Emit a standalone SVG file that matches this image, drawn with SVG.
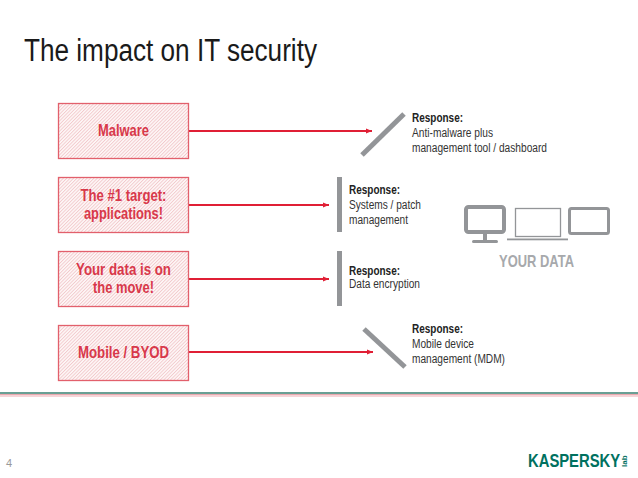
<svg xmlns="http://www.w3.org/2000/svg" width="638" height="478" viewBox="0 0 638 478">
<style>
text{font-family:"Liberation Sans",Arial,sans-serif}
.box{fill:url(#hatch);stroke:#e2606c;stroke-width:1.3}
.lbl{fill:#d8384a;font-size:16.500px;font-weight:bold;text-anchor:middle}
.conn{stroke:#e01f35;stroke-width:2;fill:none;marker-end:url(#arr)}
.bar{stroke:#939598;stroke-width:5;fill:none}
.rh{fill:#222;font-size:12.500px;font-weight:bold}
.rt{fill:#333;font-size:12.500px}
.ic{fill:none;stroke:#939598}
</style>
<defs>
<pattern id="hatch" width="2.400" height="2.400" patternUnits="userSpaceOnUse" patternTransform="rotate(-45)">
<rect width="2.400" height="2.400" fill="#fef7f7"/>
<rect width="2.400" height="0.900" fill="#f2c9cc"/>
</pattern>
<marker id="arr" markerWidth="7" markerHeight="6" refX="6" refY="3" orient="auto" markerUnits="userSpaceOnUse">
<path d="M0 0.500L6 3L0 5.500Z" fill="#e01f35"/>
</marker>
</defs>
<rect width="638" height="478" fill="#fff"/>
<text x="24" y="60.500" font-size="31" fill="#1a1a1a" textLength="293" lengthAdjust="spacingAndGlyphs">The impact on IT security</text>
<g id="connectors">
<line class="conn" x1="189" y1="131" x2="372" y2="131"/>
<line class="conn" x1="189" y1="205" x2="329" y2="205"/>
<line class="conn" x1="189" y1="279" x2="329" y2="279"/>
<line class="conn" x1="189" y1="352" x2="373" y2="352"/>
</g>
<g id="node-malware"><rect class="box" x="58.500" y="103.500" width="130" height="55"/><text class="lbl" x="123.500" y="136" textLength="51" lengthAdjust="spacingAndGlyphs">Malware</text></g>
<g id="node-target"><rect class="box" x="58.500" y="177.500" width="130" height="55"/><text class="lbl" x="123.500" y="201" textLength="86" lengthAdjust="spacingAndGlyphs">The #1 target:</text><text class="lbl" x="123.500" y="219" textLength="79" lengthAdjust="spacingAndGlyphs">applications!</text></g>
<g id="node-move"><rect class="box" x="58.500" y="251.500" width="130" height="55"/><text class="lbl" x="123.500" y="275" textLength="95" lengthAdjust="spacingAndGlyphs">Your data is on</text><text class="lbl" x="123.500" y="293" textLength="61" lengthAdjust="spacingAndGlyphs">the move!</text></g>
<g id="node-byod"><rect class="box" x="58.500" y="325.500" width="130" height="55"/><text class="lbl" x="123.500" y="358" textLength="91" lengthAdjust="spacingAndGlyphs">Mobile / BYOD</text></g>
<g id="response-1">
<line class="bar" x1="404" y1="114" x2="362" y2="155"/>
<text class="rh" x="412" y="122" textLength="51" lengthAdjust="spacingAndGlyphs">Response:</text><text class="rt" x="412" y="137" textLength="81" lengthAdjust="spacingAndGlyphs">Anti-malware plus</text><text class="rt" x="412" y="152" textLength="135" lengthAdjust="spacingAndGlyphs">management tool / dashboard</text>
</g>
<g id="response-2">
<line class="bar" x1="339.500" y1="177" x2="339.500" y2="232"/>
<text class="rh" x="349" y="194" textLength="51" lengthAdjust="spacingAndGlyphs">Response:</text><text class="rt" x="349" y="209" textLength="72" lengthAdjust="spacingAndGlyphs">Systems / patch</text><text class="rt" x="349" y="224" textLength="59" lengthAdjust="spacingAndGlyphs">management</text>
</g>
<g id="response-3">
<line class="bar" x1="339.500" y1="251" x2="339.500" y2="306"/>
<text class="rh" x="349" y="275" textLength="51" lengthAdjust="spacingAndGlyphs">Response:</text><text class="rt" x="349" y="288" textLength="71" lengthAdjust="spacingAndGlyphs">Data encryption</text>
</g>
<g id="response-4">
<line class="bar" x1="364" y1="329" x2="405" y2="367"/>
<text class="rh" x="412" y="333" textLength="51" lengthAdjust="spacingAndGlyphs">Response:</text><text class="rt" x="412" y="348" textLength="62" lengthAdjust="spacingAndGlyphs">Mobile device</text><text class="rt" x="412" y="363" textLength="93" lengthAdjust="spacingAndGlyphs">management (MDM)</text>
</g>
<g id="your-data">
<rect class="ic" x="466" y="207" width="38" height="25" rx="2.500" stroke-width="4"/>
<rect x="483" y="233" width="4" height="8" fill="#939598"/>
<rect x="472" y="240" width="26" height="3" rx="1.500" fill="#939598"/>
<rect class="ic" x="515.500" y="208.500" width="45" height="28" stroke-width="1.300"/>
<rect x="507" y="238.500" width="61" height="1.800" fill="#939598"/>
<rect class="ic" x="569.500" y="208.500" width="39" height="25" rx="2" stroke-width="3"/>
<text x="536.500" y="267" font-size="17" font-weight="bold" fill="#a7a9ac" text-anchor="middle" textLength="75" lengthAdjust="spacingAndGlyphs">YOUR DATA</text>
</g>
<rect x="0" y="392" width="638" height="2" fill="#6a9f94"/>
<rect x="0" y="394" width="638" height="1.500" fill="#e9a8ae"/>
<rect x="0" y="395.500" width="638" height="1.500" fill="#f6d4d7"/>
<text x="6" y="467" font-size="11" fill="#999">4</text>
<g id="logo">
<text font-size="19" font-weight="bold" fill="#00715f" transform="translate(528 467) scale(0.78 1)">KASPERSKY</text>
<text font-size="8" font-weight="bold" fill="#00715f" transform="translate(627 467) rotate(-90)">lab</text>
</g>
</svg>
